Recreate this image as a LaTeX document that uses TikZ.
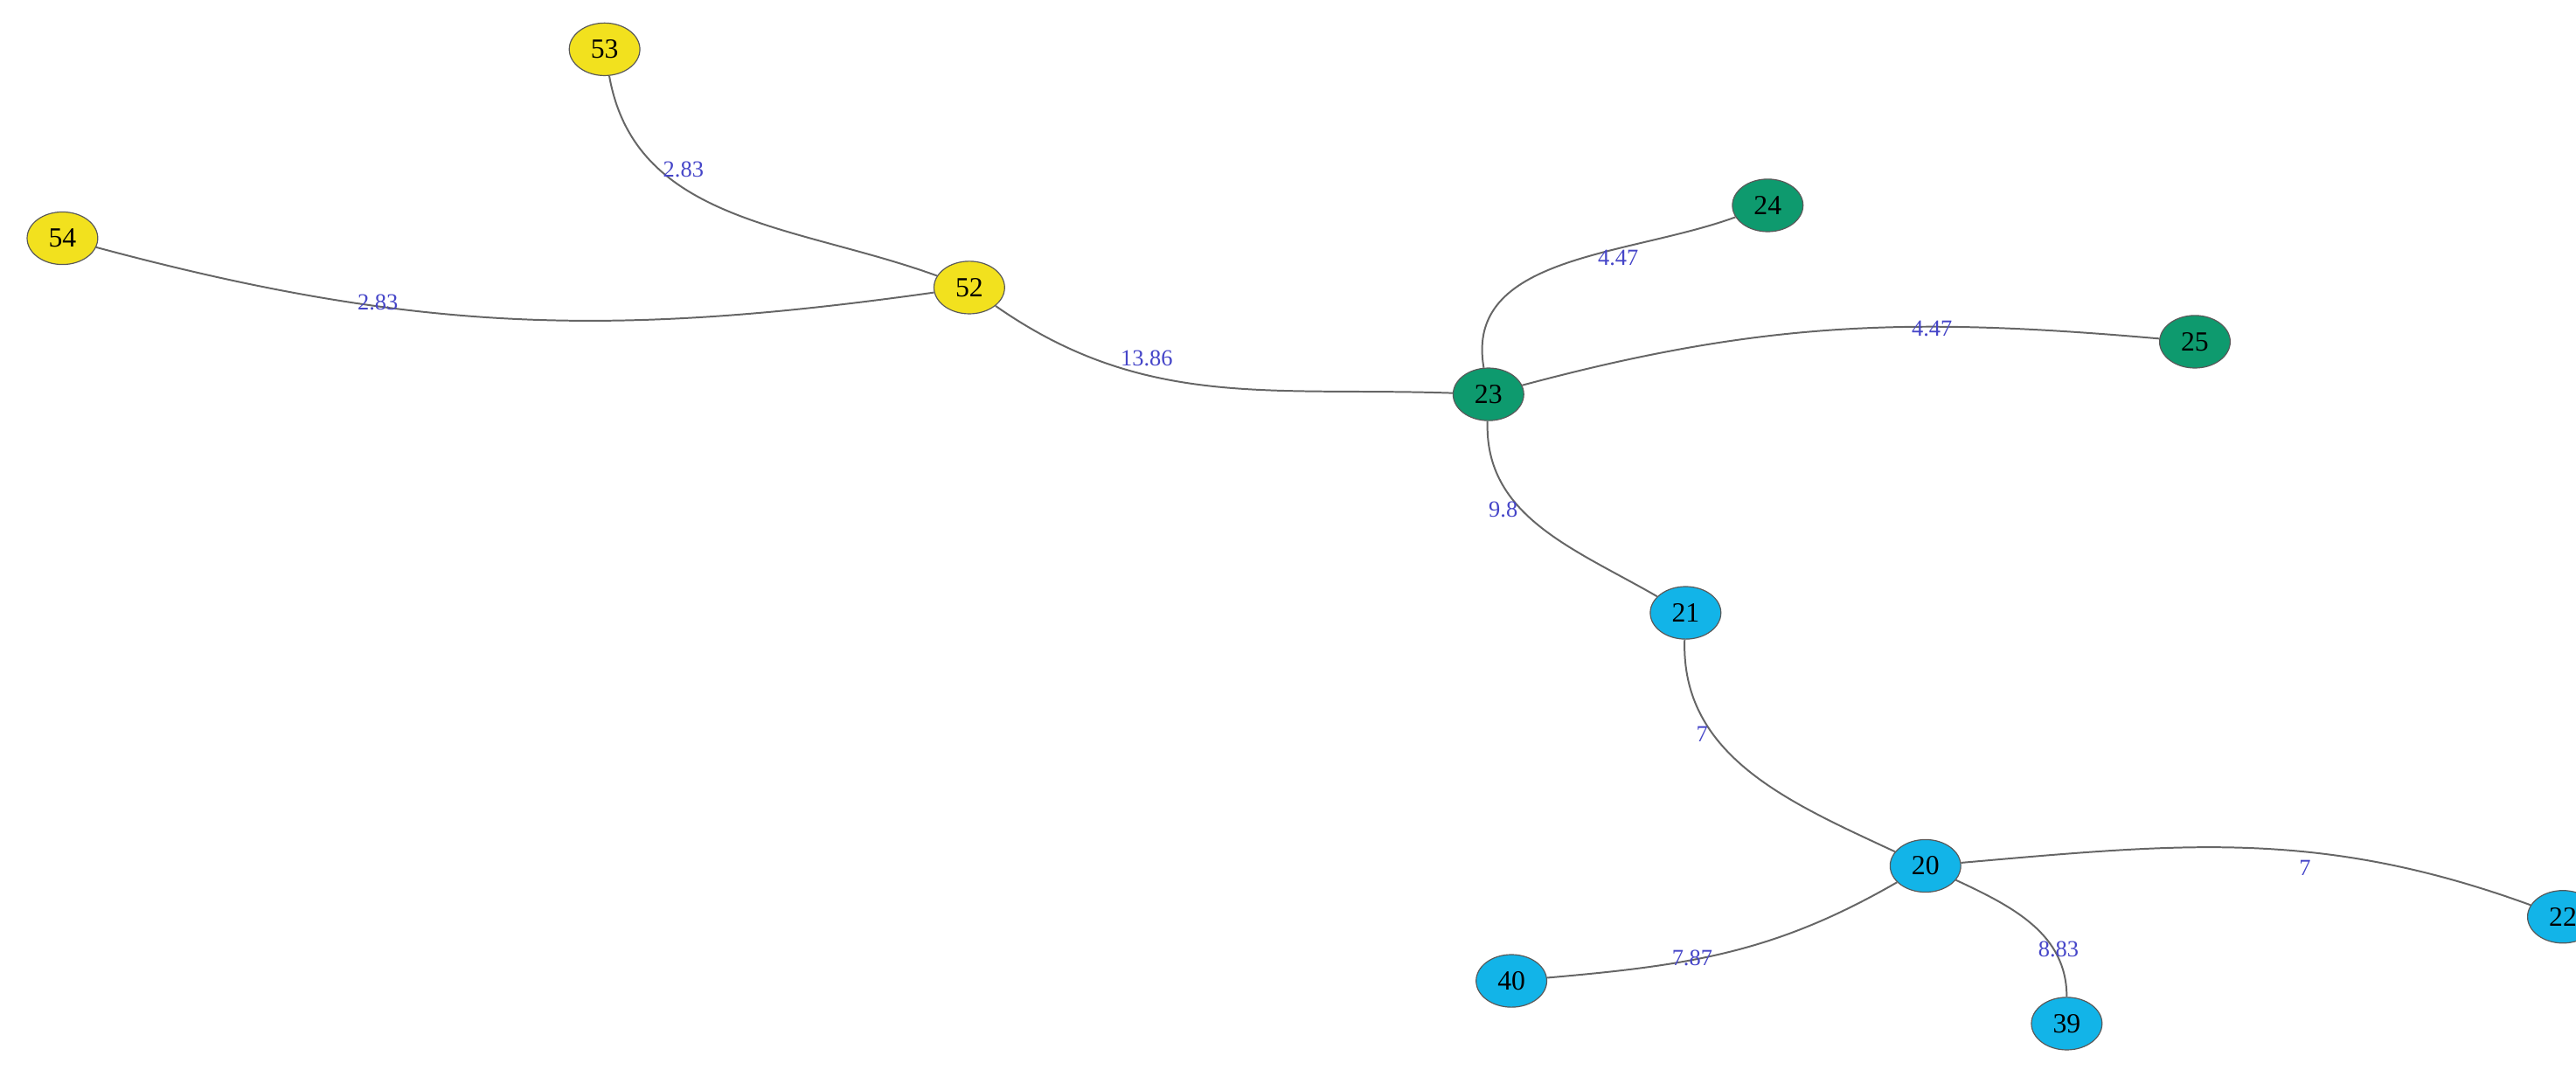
\documentclass[tikz,border=0pt]{standalone}
\usepackage{fontspec}
\setmainfont{Liberation Serif}
\usetikzlibrary{shapes.geometric}
\definecolor{yel}{HTML}{F2E11E}
\definecolor{grn}{HTML}{0E9A6E}
\definecolor{blu}{HTML}{12B4E8}
\definecolor{lab}{HTML}{4545C8}
\begin{document}
\begin{tikzpicture}[x=0.05cm,y=-0.05cm,
 vx/.style={ellipse,draw=gray!70!black,line width=0.9pt,minimum width=2.15cm,minimum height=1.6cm,inner sep=0pt,font=\fontsize{24}{24}\selectfont},
 vy/.style={vx,fill=yel},vg/.style={vx,fill=grn},vb/.style={vx,fill=blu},
 ed/.style={draw=gray!80!black,line width=1.5pt},
 lb/.style={text=lab,font=\fontsize{20}{20}\selectfont,inner sep=0pt}]
\useasboundingbox (0,0) rectangle (1568,651);
\node[vy] (n53) at (368,30) {53};
\node[vy] (n54) at (38,145) {54};
\node[vy] (n52) at (590,175) {52};
\node[vg] (n24) at (1076,125) {24};
\node[vg] (n25) at (1336,208) {25};
\node[vg] (n23) at (906,240) {23};
\node[vb] (n21) at (1026,373) {21};
\node[vb] (n20) at (1172,527) {20};
\node[vb] (n22) at (1560,558) {22};
\node[vb] (n40) at (920,597) {40};
\node[vb] (n39) at (1258,623) {39};
\draw[ed] (n53) to[out=-80,in=160] (n52);
\draw[ed] (n54) to[out=-15,in=188] (n52);
\draw[ed] (n52) to[out=-35,in=178] (n23);
\draw[ed] (n23) to[out=100,in=200] (n24);
\draw[ed] (n23) to[out=15,in=175] (n25);
\draw[ed] (n23) to[out=-92,in=150] (n21);
\draw[ed] (n21) to[out=-92,in=155] (n20);
\draw[ed] (n20) to[out=5,in=160] (n22);
\draw[ed] (n20) to[out=-150,in=5] (n40);
\draw[ed] (n20) to[out=-25,in=90] (n39);
\node[lb] (l1) at (416,103) {2.83};
\node[lb] (l2) at (230,184) {2.83};
\node[lb] (l3) at (698,218) {13.86};
\node[lb] (l4) at (985,157) {4.47};
\node[lb] (l5) at (1176,200) {4.47};
\node[lb] (l6) at (915,310) {9.8};
\node[lb] (l7) at (1036,447) {7};
\node[lb] (l8) at (1403,528) {7};
\node[lb] (l9) at (1030,583) {7.87};
\node[lb] (l10) at (1253,578) {8.83};
\end{tikzpicture}
\end{document}
